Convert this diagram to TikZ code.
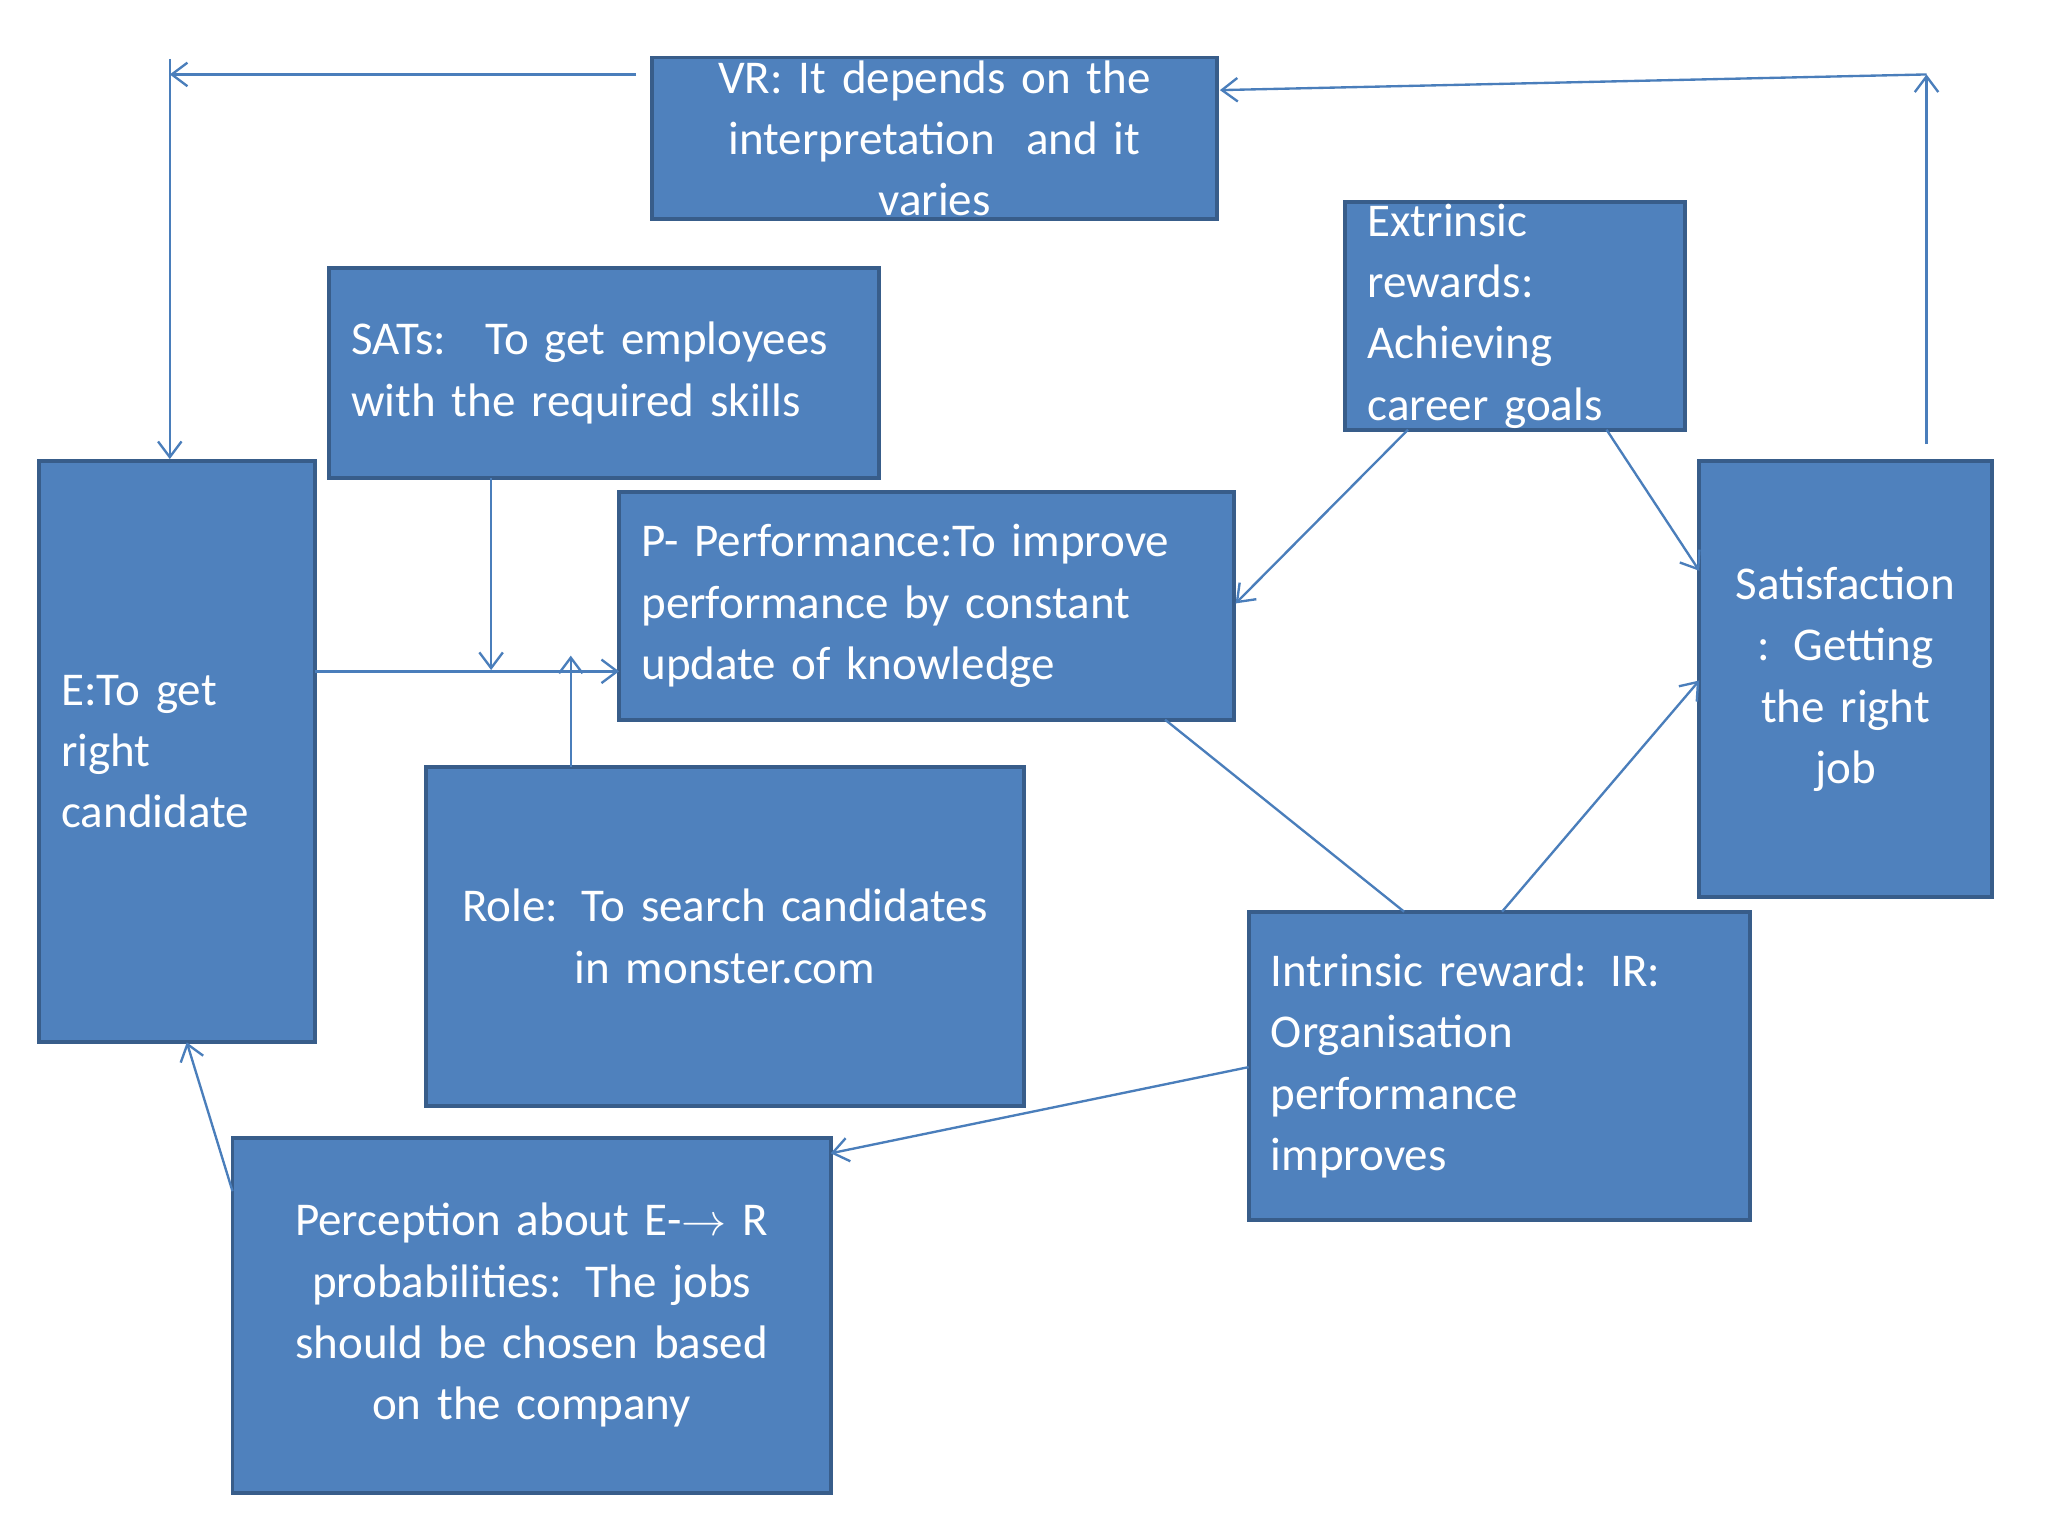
\documentclass[tikz,border=0pt]{standalone}
\usepackage{fontspec}
\setmainfont{Carlito}
\usetikzlibrary{arrows.meta}
\definecolor{boxc}{HTML}{4F81BD}
\definecolor{bordc}{HTML}{385D8A}
\definecolor{linec}{HTML}{4A7EBB}
\begin{document}
\begin{tikzpicture}[x=0.5pt,y=-0.5pt,
  box/.style={draw=bordc,line width=1.5pt,fill=boxc,text=white,inner xsep=8.5pt,inner ysep=0pt,
    font=\fontsize{18}{23.5}\selectfont},
  con/.style={draw=linec,line width=0.9pt},
  arr/.style={con,-{Straight Barb[length=6pt,width=9pt]}}]
\useasboundingbox (0,0) rectangle (1568,1176);
\fill[white] (0,0) rectangle (1568,1176);
\node[box,minimum width=216.5pt,minimum height=62pt,text width=199.5pt,align=center] (vr) at (715.5,106) {VR: It depends on the\\interpretation~ and it\\varies};
\node[box,minimum width=210.5pt,minimum height=80.5pt,text width=193.5pt,align=left] (sat) at (462.5,285.5) {SATs:~ To get employees\\with the required skills};
\node[box,minimum width=130pt,minimum height=87pt,text width=113pt,align=left] (ext) at (1160,242) {Extrinsic\\rewards:\\Achieving\\career goals};
\node[box,minimum width=105.5pt,minimum height=222.5pt,text width=88.5pt,align=left] (e) at (135.5,575.5) {E:To get\\right\\candidate};
\node[box,minimum width=235.5pt,minimum height=87pt,text width=218.5pt,align=left] (p) at (709.5,464) {P- Performance:To improve\\performance by constant\\update of knowledge};
\node[box,inner xsep=3pt,minimum width=112pt,minimum height=167pt,text width=106pt,align=center] (sf) at (1413,520) {Satisfaction\\: Getting\\the right\\job};
\node[box,minimum width=229pt,minimum height=130pt,text width=212pt,align=center] (role) at (555,717) {Role: To search candidates\\in monster.com};
\node[box,minimum width=192pt,minimum height=118pt,text width=175pt,align=left] (ir) at (1148,816) {Intrinsic reward: IR:\\Organisation\\performance\\improves};
\node[box,minimum width=229pt,minimum height=136pt,text width=212pt,align=center] (pc) at (407,1007) {Perception about E-$\rightarrow$ R\\probabilities: The jobs\\should be chosen based\\on the company};
\coordinate (tl) at (130,57);
\coordinate (tl2) at (130,45);
\coordinate (vrl) at (487,57);
\coordinate (tr) at (1475,57);
\coordinate (sft) at (1475,340);
\coordinate (satb) at (376,366);
\coordinate (satd) at (376,513);
\coordinate (rolet) at (437,587);
\coordinate (roleu) at (437,502);
\draw[arr] (vrl) -- (tl);
\draw[arr] (tl2) -- (e.north -| tl);
\draw[arr] (sft) -- (tr);
\draw[arr] (tr) -- (934,69);
\draw[arr] (satb) -- (satd);
\draw[arr] (241,514) -- (474,514);
\draw[arr] (rolet) -- (roleu);
\draw[arr] (1078,329) -- (946,462);
\draw[arr] (1230,329) -- (1301,437);
\draw[con] (892,551) -- (1075,698);
\draw[arr] (1150,698) -- (1301,521);
\draw[arr] (956,817) -- (636,883);
\draw[arr] (178,912) -- (143,798);
\end{tikzpicture}
\end{document}
